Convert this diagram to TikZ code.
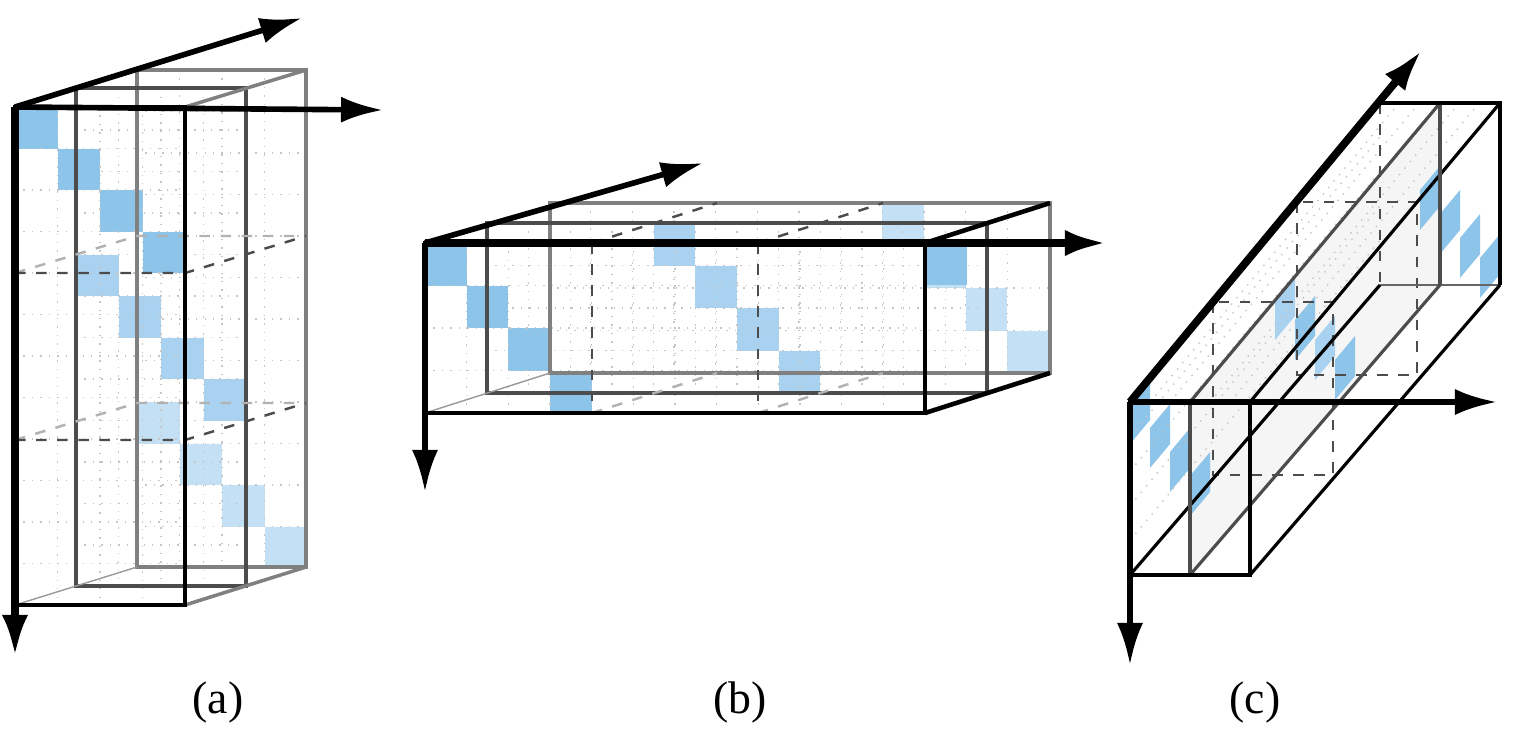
\documentclass[tikz,border=0pt]{standalone}
\usepackage{fontspec}
\setmainfont{Liberation Serif}
\usetikzlibrary{arrows.meta}
\definecolor{bA}{HTML}{8CC4EA}
\definecolor{bB}{HTML}{A8D2F0}
\definecolor{bC}{HTML}{C4E0F5}
\begin{document}
\begin{tikzpicture}[x=0.01cm,y=-0.01cm,
  ax/.style={line width=1.6pt,-{Latex[length=0.42cm,width=0.26cm]}},
  grd/.style={gray!45,dotted,line width=0.4pt},
  fb/.style={black,line width=1.3pt},
  mb/.style={black!70,line width=1.1pt},
  bb/.style={black!50,line width=1pt},
  dsh/.style={black!70,dashed,line width=0.7pt},
  ldsh/.style={black!30,dashed,line width=0.7pt},
  lab/.style={font=\fontsize{13pt}{15pt}\selectfont}]
\useasboundingbox (0,0) rectangle (1517,729);
% ================= (a)
\foreach \L/\col in {2/bC,1/bB,0/bA}{
  \foreach \i in {0,...,3}{
    \fill[\col] ({15+61*\L+42.5*\i},{107-18.5*\L+41.5*(4*\L+\i)}) rectangle ++(42.5,41.5);
  }
  \foreach \k in {1,2,3} \draw[grd] ({15+61*\L+42.5*\k},{107-18.5*\L}) -- ++(0,498);
  \foreach \r in {1,...,11} \draw[grd] ({15+61*\L},{107-18.5*\L+41.5*\r}) -- ++(170,0);
}
\draw[bb] (137,70) rectangle (306,567);
\draw[mb] (76,88) rectangle (246,586);
\draw[bb] (185,107) -- (306,70);
\draw[black!40] (15,605) -- (137,567);
\draw[bb] (185,605) -- (306,567);
\draw[ldsh] (15,273) -- (137,236) -- (306,236);
\draw[dsh] (15,273) -- (185,273) -- (306,236);
\draw[ldsh] (15,440) -- (137,403) -- (306,403);
\draw[dsh] (15,440) -- (185,440) -- (306,403);
\draw[fb] (15,107) rectangle (185,605);
\coordinate (aO) at (15,107);
\coordinate (aD) at (15,657);
\coordinate (aR) at (383,110);
\coordinate (aB) at (302,18);
\draw[ax,line width=2.2pt] (aO) -- (aD);
\draw[ax] (aO) -- (aR);
\draw[ax] (aO) -- (aB);
\node[lab] (la) at (218,702) {(a)};
% ================= (b)
\foreach \L/\col in {2/bC,1/bB,0/bA}{
  \foreach \i in {0,...,3}{
    \fill[\col] ({425+62*\L+41.67*(4*\L+\i)},{243-20*\L+42.5*\i}) rectangle ++(41.67,42.5);
  }
  \foreach \k in {1,...,11} \draw[grd] ({425+62*\L+41.67*\k},{243-20*\L}) -- ++(0,170);
  \foreach \r in {1,2,3} \draw[grd] ({425+62*\L},{243-20*\L+42.5*\r}) -- ++(500,0);
}
\fill[bA] (925,243) rectangle (967,285);
\draw[bb] (550,203) rectangle (1050,373);
\draw[mb] (487,223) rectangle (987,393);
\draw[fb] (925,243) -- (1050,203);
\draw[black!40] (425,413) -- (550,373);
\draw[fb] (925,413) -- (1050,373);
\draw[dsh] (592,243) -- (717,203);
\draw[dsh] (758,243) -- (883,203);
\draw[ldsh] (592,413) -- (717,373);
\draw[ldsh] (758,413) -- (883,373);
\draw[dsh] (592,243) -- (592,413);
\draw[dsh] (758,243) -- (758,413);
\draw[fb] (425,243) rectangle (925,413);
\coordinate (bO) at (425,243);
\coordinate (bD) at (425,492);
\coordinate (bR) at (1107,243);
\coordinate (bB) at (703,163);
\draw[ax] (bO) -- (bD);
\draw[ax,line width=2.2pt] (bO) -- (bR);
\draw[ax] (bO) -- (bB);
\node[lab] (lb) at (740,702) {(b)};
% ================= (c)
\fill[black!4] (1190,402) -- (1440,103) -- (1440,285) -- (1190,575) -- cycle;
\foreach \xx/\yy/\col in {1130/404/bA,1150/428/bA,1170/452/bA,1190/476/bA,
   1275/300/bB,1295/320/bA,1315/340/bB,1335/360/bA,
   1420/190/bA,1440/214/bA,1460/238/bA,1480/258/bA}{
  \fill[\col] (\xx,\yy) -- ++(20,-24) -- ++(0,40) -- ++(-20,24) -- cycle;
}
\foreach \k in {1,...,5} \draw[grd] ({1130+20*\k},402) -- ++(250,-300);
\foreach \k in {1,...,4} \draw[grd] (1130,{402+34.6*\k}) -- ++(250,-300);
\draw[dsh] (1213,302) rectangle (1333,475);
\draw[dsh] (1297,202) rectangle (1417,375);
\draw[dsh] (1380,103) -- (1380,285);
\draw[black!60,line width=0.8pt] (1380,285) -- (1500,285);
\draw[fb,line width=0.9pt] (1250,402) -- (1500,103);
\draw[fb,line width=0.9pt] (1250,575) -- (1500,285);
\draw[fb,line width=0.9pt] (1130,575) -- (1380,285);
\draw[mb,line width=0.9pt] (1190,402) -- (1440,103);
\draw[mb,line width=0.9pt] (1190,575) -- (1440,285);
\draw[mb,line width=0.9pt] (1440,103) -- (1440,285);
\draw[fb,line width=0.9pt] (1380,103) -- (1500,103) -- (1500,285);
\draw[mb,line width=0.9pt] (1190,402) -- (1190,575);
\draw[fb,line width=0.9pt] (1130,402) rectangle (1250,575);
\coordinate (cO) at (1130,402);
\coordinate (cD) at (1130,665);
\coordinate (cR) at (1497,402);
\coordinate (cB) at (1422,50);
\draw[ax] (cO) -- (cD);
\draw[ax] (cO) -- (cR);
\draw[ax,line width=2.2pt] (cO) -- (cB);
\node[lab] (lc) at (1255,702) {(c)};
\end{tikzpicture}
\end{document}
